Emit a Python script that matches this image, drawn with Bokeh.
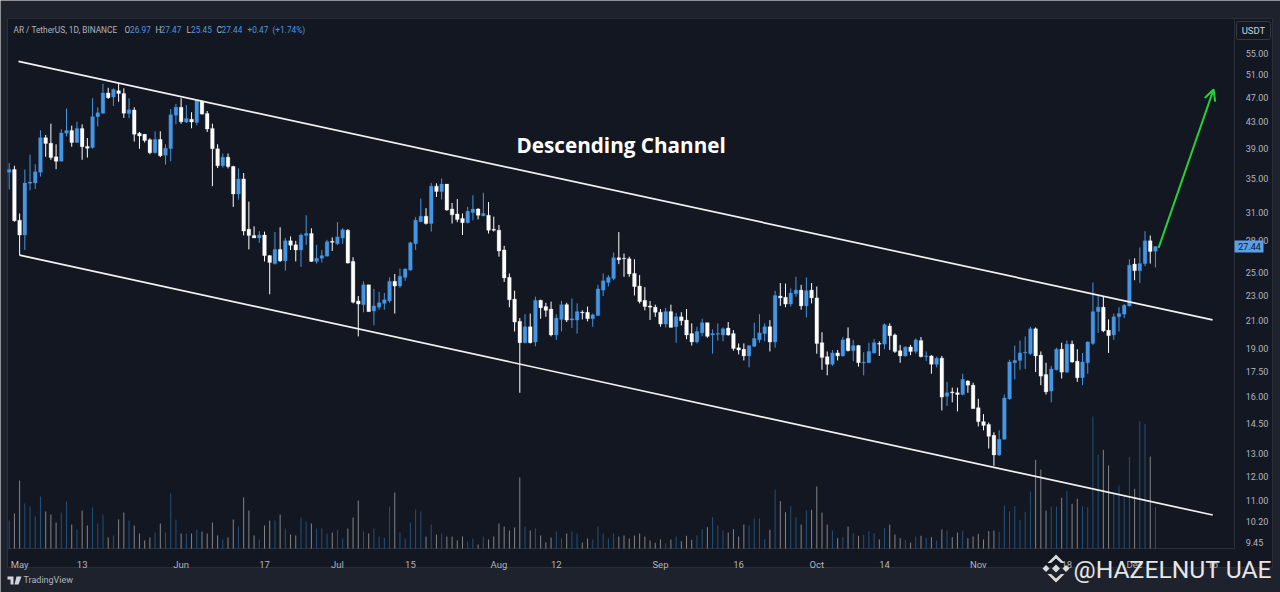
from bokeh.plotting import figure
from bokeh.models import (Range1d, LinearScale, FixedTicker, PrintfTickFormatter, Label, BoxAnnotation,
                          PolyAnnotation, Arrow, OpenHead, ColumnDataSource)
from bokeh.embed import file_html
from bokeh.resources import INLINE

tick_prices = [55, 51, 47, 43, 39, 35, 31, 28, 25, 23, 21, 19, 17.5, 16, 14.5, 13, 12, 11, 10.2, 9.45]
date_ticks = [2, 14, 33, 49, 63, 77, 94, 105, 125, 140, 155, 168, 186, 203, 216, 231]
date_labels = ["May", "13", "Jun", "17", "Jul", "15", "Aug", "12", "Sep", "16", "Oct", "14", "Nov", "18", "Dec", "16"]

opens = [35.85,36.2,30.17,28.6,34.45,34.5,35.85,40.6,39.8,37.9,
37.3,41.25,41.65,39.9,41.95,39.35,39.2,43.8,44.35,47.7,
47.0,48.1,47.6,44.3,44.85,41.25,41.1,40.3,38.45,40.35,
38.1,39.05,44.0,45.3,42.95,43.4,42.9,46.3,44.3,41.95,
39.0,36.7,37.85,36.6,33.15,35.0,29.2,28.55,28.3,28.6,
26.55,25.8,27.15,26.05,28.0,27.6,27.1,28.55,28.75,26.0,
26.3,26.5,27.95,27.7,28.3,29.1,26.0,22.55,22.25,23.9,
21.75,22.05,22.35,22.55,24.2,23.8,24.55,25.2,27.7,30.0,
30.6,29.8,34.1,33.45,34.35,31.4,30.85,30.35,29.9,31.0,
31.4,30.65,30.7,29.2,29.1,27.1,24.55,22.7,20.95,19.4,
20.55,19.45,22.6,22.1,21.9,19.95,21.1,22.25,21.05,21.05,
21.65,21.65,21.15,21.4,23.45,24.1,24.45,26.35,26.3,26.25,
24.9,23.8,22.6,22.15,22.05,21.65,20.75,21.7,20.55,21.3,
21.05,20.05,19.45,20.1,20.85,19.95,20.0,19.95,20.45,20.05,
19.05,18.95,18.5,19.15,19.6,20.05,20.55,19.45,22.95,22.85,
22.3,23.15,23.45,22.15,23.45,22.8,19.4,18.45,17.95,18.7,
18.5,19.7,18.85,19.2,18.05,18.05,18.7,19.35,19.3,20.6,
19.95,18.85,18.5,19.1,18.8,19.55,18.45,18.5,17.95,18.35,
16.0,16.25,16.2,16.1,16.9,16.65,15.35,14.6,14.45,13.9,
12.95,13.7,15.85,18.05,18.2,18.7,18.65,20.4,18.55,17.3,
16.3,17.6,18.95,17.45,19.3,18.15,17.1,18.05,19.35,21.7,
22.05,20.3,19.95,21.3,21.5,22.15,25.75,25.15,25.8,28.0,
26.97]
highs = [37.07,36.7,30.9,36.2,38.2,36.9,41.7,41.0,42.7,39.65,
41.85,45.1,42.4,43.0,42.6,40.55,46.8,45.3,49.3,48.6,
48.5,49.4,48.5,46.8,45.3,41.45,41.15,40.5,41.55,41.55,
39.65,45.0,45.85,46.8,45.65,44.5,46.55,46.45,44.7,42.7,
39.65,38.35,38.35,36.7,36.35,35.75,32.25,29.5,29.0,28.95,
26.6,28.9,29.4,28.3,28.45,28.0,28.75,30.7,29.3,27.6,
27.1,28.1,28.35,29.95,29.3,29.2,26.4,22.95,24.2,23.9,
23.55,23.3,23.2,24.55,24.85,25.35,25.35,27.9,30.5,32.6,
31.5,34.5,34.45,35.05,34.35,32.1,32.55,30.9,31.65,33.0,
31.5,33.3,32.2,30.55,29.65,27.5,24.9,23.4,21.2,21.5,
21.55,22.9,22.65,22.4,22.5,21.5,22.55,22.4,22.75,22.35,
21.8,22.1,21.55,23.9,24.9,24.75,26.85,28.9,26.75,26.45,
26.2,24.75,23.7,22.55,22.25,21.9,22.0,22.25,21.6,21.65,
21.9,20.8,20.55,21.15,20.85,20.35,20.8,20.5,20.9,20.3,
19.35,19.35,19.2,20.85,21.5,20.8,21.05,23.4,24.05,24.0,
23.6,24.6,23.9,24.55,24.05,23.75,20.15,18.8,18.9,18.9,
19.8,20.5,19.6,19.25,18.75,19.4,19.65,19.5,20.8,20.8,
20.05,19.25,19.15,19.25,19.7,19.8,18.8,18.55,18.45,18.5,
16.85,16.5,16.5,17.35,16.95,16.8,15.85,15.0,14.55,14.05,
14.15,16.1,18.25,19.2,19.55,19.85,20.55,20.5,18.8,18.05,
17.85,19.05,19.4,19.55,19.55,18.95,18.7,19.5,24.1,22.95,
22.9,21.1,21.55,22.05,22.3,26.2,26.3,27.35,29.0,28.55,
27.47]
lows = [33.7,30.0,26.6,27.1,33.6,33.75,35.3,37.9,37.5,36.25,
37.3,40.8,39.3,39.85,37.5,37.8,39.0,42.3,44.25,46.7,
45.5,46.2,43.6,43.55,40.05,39.0,39.9,38.25,38.35,37.85,
36.85,37.3,42.6,42.7,42.8,42.0,42.45,44.1,41.45,34.1,
36.4,36.45,36.35,31.65,32.5,28.55,27.15,28.3,27.8,26.0,
23.1,25.7,25.95,25.15,27.1,26.0,25.5,27.6,25.95,25.8,
25.9,26.45,27.0,27.6,27.7,25.8,22.35,19.85,21.65,21.7,
20.65,21.85,21.85,22.4,21.55,23.65,24.25,25.15,27.1,29.95,
29.7,28.95,32.8,32.5,31.2,29.8,29.95,28.6,29.8,30.15,
30.25,30.6,28.75,28.95,26.45,24.15,22.05,20.2,16.2,19.35,
19.35,19.15,21.15,21.3,19.85,19.6,20.2,20.9,20.45,20.05,
21.1,20.95,20.55,21.35,22.95,23.75,24.3,25.75,24.6,24.6,
23.0,22.35,21.8,21.05,21.3,20.55,20.5,20.5,19.4,20.65,
19.65,19.2,19.35,19.85,19.75,18.65,19.55,19.5,19.9,18.85,
18.6,18.2,17.75,19.1,19.4,19.5,18.8,19.05,22.15,22.05,
22.1,22.9,21.85,21.25,22.35,18.65,17.6,17.25,17.85,18.2,
18.45,18.8,18.15,17.8,17.25,18.05,18.65,18.5,18.95,18.9,
18.7,18.05,18.45,18.55,18.65,18.4,18.15,17.35,17.75,15.2,
15.45,15.65,15.15,16.05,16.2,15.3,14.35,14.15,13.25,12.45,
12.9,13.7,15.8,17.0,17.6,17.65,18.55,17.45,16.65,16.1,
15.65,17.55,17.05,17.4,18.05,16.85,16.65,17.35,19.25,20.1,
20.15,18.7,19.6,20.2,21.2,22.1,24.3,24.05,25.55,25.8,
25.45]
closes = [36.2,30.1,28.6,34.5,34.6,35.9,40.6,39.75,37.8,37.3,
41.3,41.65,39.9,41.95,39.3,39.1,43.8,44.4,47.7,46.9,
48.3,47.6,44.35,44.9,41.1,40.85,40.2,38.45,40.35,38.05,
39.1,44.1,45.3,43.0,43.5,42.95,46.45,44.2,41.9,39.0,
36.7,37.85,36.6,33.15,35.0,29.0,28.55,28.3,28.6,26.55,
25.9,27.15,26.05,28.0,27.55,27.1,28.6,28.75,26.0,26.3,
26.55,27.9,27.85,28.4,29.15,25.85,22.45,22.3,23.9,21.7,
22.15,22.4,22.65,24.2,23.8,24.65,25.3,27.8,30.15,30.6,
29.8,34.1,33.45,34.35,31.3,30.75,30.25,29.9,31.15,31.4,
30.7,30.9,29.1,29.1,27.0,24.5,22.65,20.9,19.4,20.55,
19.4,22.6,22.0,21.8,19.95,21.2,22.25,21.05,21.15,21.7,
21.6,21.15,21.45,23.55,24.25,24.55,26.35,26.15,26.25,24.85,
23.75,22.5,22.1,22.05,21.65,20.75,21.7,20.5,21.3,21.0,
19.95,19.45,20.2,20.85,19.85,20.05,20.05,20.4,19.95,19.0,
18.9,18.5,19.2,19.7,20.1,20.55,19.45,23.0,22.8,22.3,
23.2,23.45,22.15,23.4,22.8,19.35,18.4,17.95,18.7,18.5,
19.6,18.85,19.2,18.05,18.1,18.8,19.4,19.3,20.7,19.9,
18.8,18.5,19.1,18.8,19.6,18.45,18.5,17.95,18.35,15.95,
16.2,16.2,16.1,17.0,16.65,15.3,14.6,14.4,13.85,12.95,
13.7,15.9,18.1,18.2,18.7,18.75,20.4,18.5,17.2,16.25,
17.65,18.95,17.45,19.3,18.1,17.1,18.1,19.45,21.7,22.05,
20.25,19.9,21.3,21.55,22.2,25.65,25.15,25.8,28.0,26.95,
27.44]
volumes = [2.8,3.5,6.8,4.5,4.2,3.2,5.2,3.7,3.4,2.6,3.6,4.7,2.4,1.9,3.8,2.3,4.1,2.5,3.4,1.1,
1.3,2.9,3.6,2.8,2.3,1.5,0.8,1.1,1.6,2.5,1.6,5.5,2.9,1.5,1.5,1.5,1.9,1.7,1.5,2.6,
1.3,0.9,1.1,2.9,2.2,5.1,3.8,1.3,0.9,2.3,2.8,2.8,3.4,2.0,1.4,1.3,3.1,2.7,2.5,2.0,
2.0,1.5,1.6,1.9,1.0,2.0,3.1,4.8,1.7,1.5,2.0,1.2,1.1,4.2,5.6,1.6,1.0,2.6,3.9,3.7,
1.2,2.4,1.4,1.5,1.2,1.2,0.8,1.2,0.7,1.0,0.4,1.2,0.9,1.2,2.5,2.2,1.8,2.1,7.1,2.2,
1.8,2.0,1.3,0.6,1.1,1.7,1.0,1.5,1.7,1.5,0.6,1.0,0.9,2.2,1.5,1.0,1.5,1.2,1.3,1.0,
1.3,1.5,
1.2,0.8,0.57,0.9,0.53,0.9,1.2,0.73,1.27,0.87,1.3,1.93,2.13,3.13,2.3,1.8,1.6,1.93,1.2,2.4,
2.3,3.03,3.0,0.93,1.87,5.9,4.73,3.63,4.23,3.13,2.4,3.8,3.87,6.2,3.6,2.4,1.8,1.03,1.13,2.2,
1.53,1.27,1.37,1.73,1.53,0.9,2.07,2.4,1.4,1.03,0.87,0.6,1.2,1.27,1.07,1.13,0.8,1.9,1.8,1.13,
1.6,1.8,1.03,1.2,1.47,0.9,1.73,1.8,1.67,4.3,3.73,4.23,2.87,3.67,5.7,8.87,7.9,3.8,4.2,4.2,
5.07,5.73,4.47,4.97,4.23,4.13,13.2,9.37,9.87,8.3,5.47,6.3,5.13,9.13,5.97,12.73,12.47,9.2,4.13]

upper_x = [1.78, 230.96]
upper_y = [53.44, 21.07]
lower_x = [1.98, 231.0]
lower_y = [26.6, 10.43]
arrow_x = [220.6, 231.15]
arrow_y = [27.3, 48.3]

FRAME = "#1e222d"
PANE = "#131722"
BLUE = "#4596e4"
TEXT = "#b2b5be"

idx = list(range(len(closes)))
is_up = [c > o for o, c in zip(opens, closes)]
src = ColumnDataSource(dict(
    x=idx, o=opens, h=highs, l=lows, c=closes, v=volumes,
    base=[0] * len(idx),
    top=[max(a, b) for a, b in zip(opens, closes)],
    bot=[min(a, b) for a, b in zip(opens, closes)],
    col=[BLUE if u else "#ffffff" for u in is_up],
    vcol=["#2a6496" if u else "#a8a8a8" for u in is_up],
))

W, H = 1280, 592
p = figure(width=W, height=H, output_backend="svg", toolbar_location=None,
           y_axis_type="log", y_axis_location="right",
           x_range=Range1d(-1.67, 244.0), y_range=Range1d(7.89, 66.55),
           min_border_left=0, min_border_top=0, min_border_right=0, min_border_bottom=0,
           background_fill_color=FRAME, border_fill_color=FRAME,
           outline_line_color=None)
p.grid.visible = False
p.extra_y_ranges = {"vol": Range1d(-4.4, 54.8)}
p.extra_y_scales = {"vol": LinearScale()}

ya = p.yaxis[0]
ya.fixed_location = 235.2
ya.ticker = FixedTicker(ticks=tick_prices, minor_ticks=[])
ya.formatter = PrintfTickFormatter(format="%.2f")
ya.major_tick_line_color = None
ya.minor_tick_line_color = None
ya.axis_line_color = None
ya.major_label_text_color = TEXT
ya.major_label_text_font = "Roboto"
ya.major_label_text_font_size = "9px"
ya.major_label_standoff = 5

xa = p.xaxis[0]
xa.fixed_location = 9.27
xa.ticker = FixedTicker(ticks=date_ticks, minor_ticks=[])
xa.major_label_overrides = dict(zip(date_ticks, date_labels))
xa.major_tick_line_color = None
xa.minor_tick_line_color = None
xa.axis_line_color = None
xa.major_label_text_color = TEXT
xa.major_label_text_font = "Roboto"
xa.major_label_text_font_size = "9.5px"
xa.major_label_standoff = 5


def band(l, r, t, b, fill, line=None, level="annotation", radius=0):
    p.add_layout(BoxAnnotation(left=l, right=r, top=t, bottom=b,
                               left_units="canvas", right_units="canvas", top_units="canvas", bottom_units="canvas",
                               fill_color=fill, fill_alpha=1, line_color=line, line_alpha=1 if line else 0,
                               line_width=1, border_radius=radius, level=level))


def poly(pts, fill):
    p.add_layout(PolyAnnotation(xs=[a for a, b in pts], ys=[b for a, b in pts],
                                xs_units="canvas", ys_units="canvas", fill_color=fill, fill_alpha=1,
                                line_color=None, level="annotation"))


def text(x, y, s, color=TEXT, size=9, font="Roboto", style="normal", align="left"):
    p.add_layout(Label(x=x, y=y, x_units="canvas", y_units="canvas", text=s, text_color=color,
                       text_font=font, text_font_size=f"{size}px", text_font_style=style,
                       text_align=align, text_baseline="middle", level="annotation"))


# dark panes: price pane with its two axis strips
band(7, 1272, 18, 567, PANE, "#2a2e39", level="underlay")
band(7, 1234, 18, 548, PANE, "#2a2e39", level="underlay")

p.segment("x", "base", "x", "v", source=src, y_range_name="vol", line_color="vcol", line_width=1, line_alpha=0.75)
p.segment("x", "h", "x", "l", source=src, line_color="col", line_width=1)
p.vbar("x", 0.7, "bot", "top", source=src, fill_color="col", line_color="col", line_width=0.3)

p.line(upper_x, upper_y, line_color="#f2f2f2", line_width=1.7)
p.line(lower_x, lower_y, line_color="#f2f2f2", line_width=1.7)
p.add_layout(Arrow(x_start=arrow_x[0], y_start=arrow_y[0], x_end=arrow_x[1], y_end=arrow_y[1],
                   line_color="#22d43a", line_width=2,
                   end=OpenHead(size=11, line_color="#22d43a", line_width=2)))

text(516, 144, "Descending Channel", "#ffffff", 20.7, "Open Sans", "bold")

text(13, 29, "AR / TetherUS, 1D, BINANCE", TEXT, 8.3)
for x, s in [(124, "O"), (155, "H"), (186, "L"), (216, "C")]:
    text(x, 29, s, TEXT, 8.3)
for x, s in [(129.5, "26.97"), (160, "27.47"), (190.5, "25.45"), (221, "27.44"), (247, "+0.47"), (272, "(+1.74%)")]:
    text(x, 29, s, "#4a97e0", 8.3)

band(1236, 1270, 21, 39, PANE, "#363a45", radius=2)
text(1253, 30, "USDT", "#d1d4dc", 9.5, align="center")

band(1234, 1263, 240, 252, "#5a9fe8")
text(1249, 246, "27.44", "#131722", 9, align="center")

text(23, 579.5, "TradingView", TEXT, 9)
poly([(7, 576), (13, 576), (13, 584), (10, 584), (10, 579), (7, 579)], "#d1d4dc")
poly([(16, 576), (21, 576), (18, 584), (14, 584)], "#d1d4dc")

LOGO = "#dcdcdc"
cx, cy = 1055.5, 568
poly([(cx, cy - 4), (cx + 4, cy), (cx, cy + 4), (cx - 4, cy)], LOGO)
poly([(cx - 13.5, cy), (cx - 10, cy - 3.5), (cx - 6.5, cy), (cx - 10, cy + 3.5)], LOGO)
poly([(cx + 13.5, cy), (cx + 10, cy - 3.5), (cx + 6.5, cy), (cx + 10, cy + 3.5)], LOGO)
poly([(cx, cy - 14), (cx + 8.5, cy - 5.5), (cx + 5, cy - 5.5), (cx, cy - 10), (cx - 5, cy - 5.5), (cx - 8.5, cy - 5.5)], LOGO)
poly([(cx, cy + 14), (cx + 8.5, cy + 5.5), (cx + 5, cy + 5.5), (cx, cy + 10), (cx - 5, cy + 5.5), (cx - 8.5, cy + 5.5)], LOGO)
text(1073, 569, "@HAZELNUT UAE", "#e6e6e6", 24.7)

open("out.html", "w").write(file_html(p, INLINE))
